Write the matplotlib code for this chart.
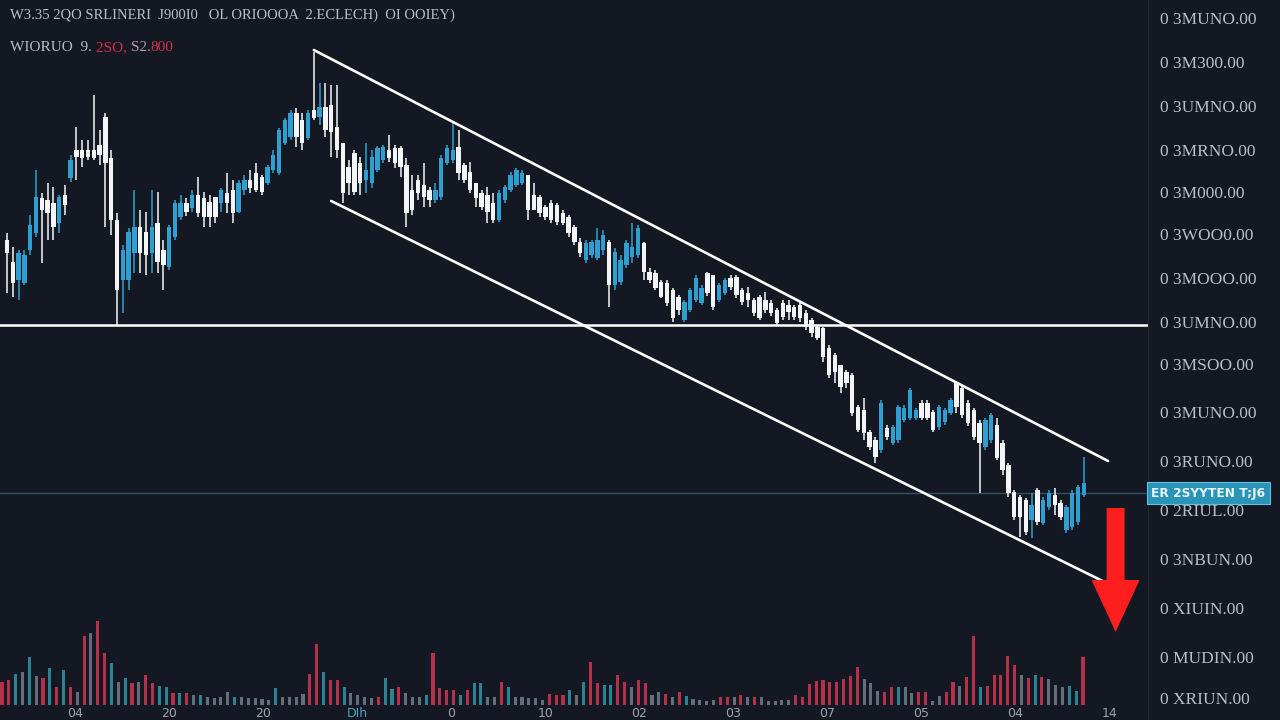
import matplotlib
matplotlib.use("Agg")
import matplotlib.pyplot as plt
import matplotlib.transforms as mtransforms
import numpy as np
from matplotlib.patches import FancyArrow

# ---- price candles (arbitrary price units) ----
opens = [480, 458, 440, 437, 470, 487, 522, 520, 517, 497, 525, 542, 570, 570, 570, 570, 575, 603, 562, 500,
         440, 440, 467, 493, 488, 467, 497, 470, 453, 483, 503, 517, 512, 525, 522, 518, 523, 517, 527, 530,
         508, 530, 540, 547, 543, 537, 550, 547, 577, 583, 607, 600, 582, 610, 603, 613, 615, 593, 577, 553,
         567, 557, 540, 537, 550, 560, 570, 572, 572, 555, 530, 540, 535, 530, 520, 523, 557, 560, 573, 555,
         548, 537, 527, 525, 517, 500, 520, 530, 535, 537, 545, 525, 523, 513, 517, 515, 507, 503, 493, 478,
         460, 465, 462, 470, 478, 435, 438, 455, 463, 465, 477, 448, 447, 438, 437, 430, 423, 400, 410, 420,
         417, 447, 445, 420, 427, 442, 443, 430, 427, 420, 423, 420, 417, 410, 417, 415, 413, 415, 407, 400,
         393, 392, 372, 365, 355, 348, 345, 313, 310, 288, 280, 270, 292, 277, 280, 300, 302, 302, 317, 317,
         308, 293, 298, 307, 337, 332, 317, 310, 297, 273, 280, 295, 277, 255, 228, 223, 220, 200, 230, 197,
         213, 225, 217, 190, 193, 198, 225]
highs = [487, 473, 470, 470, 505, 550, 527, 537, 533, 525, 535, 565, 593, 580, 580, 625, 590, 607, 570, 507,
         475, 492, 530, 510, 508, 530, 528, 480, 495, 520, 525, 522, 530, 543, 528, 525, 523, 532, 547, 540,
         540, 545, 550, 557, 545, 555, 570, 592, 602, 610, 612, 607, 610, 668, 637, 637, 635, 635, 577, 560,
         570, 563, 577, 570, 574, 575, 585, 575, 574, 562, 545, 545, 557, 533, 537, 565, 575, 597, 590, 557,
         558, 537, 530, 533, 527, 530, 535, 548, 552, 550, 545, 537, 525, 515, 520, 517, 510, 505, 495, 482,
         480, 480, 492, 490, 480, 472, 465, 480, 497, 495, 478, 452, 450, 440, 440, 432, 425, 420, 432, 445,
         435, 448, 445, 437, 442, 445, 445, 432, 433, 422, 425, 428, 420, 412, 420, 420, 415, 417, 410, 402,
         395, 393, 375, 367, 355, 350, 347, 315, 322, 290, 283, 320, 295, 295, 315, 315, 332, 312, 320, 320,
         310, 315, 312, 322, 337, 334, 320, 312, 300, 302, 307, 302, 280, 257, 230, 225, 222, 227, 232, 223,
         230, 232, 220, 215, 230, 235, 263]
lows = [427, 423, 420, 435, 465, 483, 457, 480, 480, 487, 505, 538, 540, 553, 560, 560, 555, 493, 485, 395,
        407, 430, 447, 447, 445, 447, 447, 430, 450, 480, 500, 504, 508, 503, 493, 493, 497, 508, 507, 497,
        507, 525, 527, 528, 525, 535, 547, 545, 575, 580, 573, 570, 580, 600, 595, 583, 563, 562, 517, 525,
        525, 525, 527, 532, 548, 557, 558, 552, 543, 493, 505, 520, 513, 513, 517, 520, 555, 557, 540, 537,
        527, 513, 510, 497, 497, 498, 517, 528, 533, 535, 500, 510, 503, 500, 497, 495, 495, 483, 475, 463,
        457, 462, 460, 465, 413, 430, 435, 452, 457, 462, 440, 437, 430, 422, 414, 398, 405, 398, 408, 418,
        415, 424, 410, 418, 425, 430, 422, 415, 413, 404, 400, 407, 404, 394, 400, 400, 400, 398, 390, 383,
        380, 358, 342, 337, 327, 332, 304, 288, 280, 270, 257, 267, 280, 275, 277, 298, 300, 300, 300, 300,
        288, 290, 295, 305, 307, 302, 294, 280, 227, 270, 277, 260, 245, 223, 200, 183, 185, 182, 195, 195,
        210, 205, 200, 187, 190, 195, 223]
closes = [467, 437, 467, 465, 495, 523, 510, 507, 493, 523, 515, 560, 563, 562, 563, 562, 565, 557, 500, 430,
          470, 488, 493, 467, 465, 493, 458, 455, 493, 517, 517, 508, 525, 507, 503, 503, 503, 530, 517, 507,
          537, 540, 532, 530, 528, 553, 565, 590, 600, 607, 583, 577, 607, 602, 613, 590, 588, 570, 527, 537,
          528, 537, 550, 563, 572, 573, 562, 557, 553, 507, 510, 527, 523, 520, 530, 562, 572, 570, 547, 540,
          530, 522, 513, 508, 500, 527, 533, 545, 550, 547, 510, 510, 507, 503, 500, 498, 497, 487, 478, 467,
          477, 478, 480, 485, 435, 468, 460, 477, 473, 492, 448, 440, 432, 423, 417, 402, 410, 418, 430, 442,
          432, 427, 413, 435, 440, 433, 425, 418, 420, 407, 402, 410, 407, 397, 403, 408, 403, 402, 393, 387,
          382, 363, 345, 348, 333, 337, 307, 290, 287, 273, 263, 317, 283, 293, 313, 312, 330, 310, 302, 302,
          290, 313, 310, 320, 313, 305, 297, 283, 277, 300, 305, 262, 250, 227, 203, 203, 188, 215, 198, 220,
          227, 215, 203, 213, 227, 233, 237]

# ---- volume bars (r = sell, t = buy, g = quiet) ----
volumes = [23, 25, 31, 33, 48, 29, 27, 37, 18, 35, 18, 13, 69, 72, 84, 52, 42, 23, 27, 22,
           23, 30, 22, 19, 18, 12, 12, 12, 10, 10, 8, 7, 8, 13, 8, 8, 7, 7, 6, 5,
           17, 8, 8, 8, 11, 31, 61, 33, 25, 25, 18, 12, 10, 8, 7, 8, 27, 16, 18, 12,
           8, 8, 10, 52, 17, 15, 15, 10, 15, 22, 22, 8, 8, 23, 18, 8, 8, 7, 7, 5,
           11, 10, 10, 15, 10, 23, 43, 22, 20, 20, 30,
           23, 18, 25, 22, 10, 13, 11, 8, 13, 9, 6, 5, 4, 5, 8, 8, 8, 10, 8, 8,
           8, 4, 4, 5, 5, 10, 8, 21, 24, 25, 23, 23, 26, 29, 38, 26, 22, 14, 13, 18,
           18, 18, 12, 13, 13, 4, 9, 13, 23, 19, 28, 69, 18, 19, 30, 30, 49, 40, 30, 27,
           30, 28, 26, 20, 18, 19, 14, 48]
vol_kinds = list("rrtgtgrtrt" "rgrgrrtgtr" "grrttrtrgt" "ggggtggggg"
                 "tggggrrtrr" "tggggrttrg" "ggtrrrrtrt" "tggrtggggg"
                 "rrrtgtrrtt" "r"
                 "rgrrggrgrt" "ggggrrgrgr" "ggggg" "rrrrrrrrrr" "gggrrtggrr"
                 "ggrrgrrtrr" "rrrgrtrggg" "tt")

# ---- annotations ----
support_level = 395
last_price = 227
upper_channel = ([53, 190.2], [670, 259])
lower_channel = ([56, 189.6], [519, 138])

tick_prices = [702, 658, 614, 570, 528, 486, 442, 398, 356, 308, 259, 210, 161, 112, 63, 22]
tick_labels = ["0 3MUNO.00", "0 3M300.00", "0 3UMNO.00", "0 3MRNO.00", "0 3M000.00", "0 3WOO0.00",
               "0 3MOOO.00", "0 3UMNO.00", "0 3MSOO.00", "0 3MUNO.00", "0 3RUNO.00", "0 2RIUL.00",
               "0 3NBUN.00", "0 XIUIN.00", "0 MUDIN.00", "0 XRIUN.00"]
date_labels = ["04", "20", "20", "DIh", "0", "10", "02", "03", "07", "05", "04", "14"]

title_line = "W3.35 2QO SRLINERI  J900I0   OL ORIOOOA  2.ECLECH)  OI OOIEY)"
price_tag = "ER 2SYYTEN T;J6"

BG = "#131822"
WHITE = "#f3f5f7"
BLUE = "#2f9fd2"
TEXT = "#b9bec6"
vol_colors = {"r": "#c8344f", "t": "#2f8f9f", "g": "#6d7884"}

fig = plt.figure(figsize=(12.8, 7.2), dpi=100)
fig.patch.set_facecolor(BG)

# main price panel
ax = fig.add_axes([0, 0, 1148 / 1280, 1])
ax.set_facecolor(BG)

o = np.array(opens)
h = np.array(highs)
l = np.array(lows)
c = np.array(closes)
x = np.arange(len(o))
cols = np.where(c > o, BLUE, WHITE)

ax.vlines(x, l, h, colors=cols, lw=1.1, zorder=3)
ax.bar(x, np.maximum(np.abs(c - o), 2), bottom=np.minimum(o, c), width=0.76,
       color=cols, linewidth=0, zorder=4)

ax.axhline(support_level, color="white", lw=1.8, zorder=2)
ax.axhline(last_price, color="#35505f", lw=1.0, zorder=1)
ax.plot(*upper_channel, color="white", lw=1.9, solid_capstyle="round", zorder=5)
ax.plot(*lower_channel, color="white", lw=1.9, solid_capstyle="round", zorder=5)

arrow = FancyArrow(191.5, 212, 0, -124, width=3.1, head_width=8.3, head_length=52,
                   length_includes_head=True, color="#ff1e1e", lw=0, zorder=6)
ax.add_patch(arrow)

ax.set_xlim(-1.21, 197.1)
ax.set_ylim(0, 720)
ax.set_xticks([])
ax.yaxis.tick_right()
ax.set_yticks(tick_prices)
ax.set_yticklabels(tick_labels, color=TEXT, fontsize=12.5, family="Liberation Serif")
ax.tick_params(axis="y", length=0, pad=9)
for side in ["top", "left", "bottom"]:
    ax.spines[side].set_visible(False)
ax.spines["right"].set_color("#1f2631")

# last price tag on the axis
trans = mtransforms.blended_transform_factory(ax.transAxes, ax.transData)
ax.text(1.003, last_price, price_tag, transform=trans, ha="left", va="center",
        color="#e6f7ff", fontsize=8.8, fontweight="bold", clip_on=False, zorder=10,
        bbox=dict(boxstyle="square,pad=0.35", fc="#2a93b8", ec="#63c3dd", lw=0.8))

# volume panel
vax = fig.add_axes([0, 15 / 720, 1148 / 1280, 100 / 720])
vax.patch.set_alpha(0)
vx = np.arange(len(volumes))
vax.bar(vx, volumes, width=0.45, color=[vol_colors[k] for k in vol_kinds], alpha=0.9, linewidth=0)
vax.set_xlim(-0.29, 167.5)
vax.set_ylim(0, 100)
vax.set_yticks([])
date_pos = (75 + 94 * np.arange(len(date_labels)) - 2) / 6.84
vax.set_xticks(date_pos)
vax.set_xticklabels(date_labels, color="#9ba3ad", fontsize=9)
vax.get_xticklabels()[3].set_color("#4aa6c4")
vax.tick_params(axis="x", length=0, pad=1.5)
for s in vax.spines.values():
    s.set_visible(False)

# header text
fig.text(0.008, 0.979, title_line, color=TEXT, fontsize=10.5, family="Liberation Serif", va="center")
fig.canvas.draw()
renderer = fig.canvas.get_renderer()
xpos = 0.008
for piece, col in [("WIORUO  9. ", TEXT), ("2SO, ", "#d0334a"), ("S2.", "#b89aa2"), ("800", "#d0334a")]:
    t = fig.text(xpos, 0.934, piece, color=col, fontsize=11, family="Liberation Serif", va="center")
    bb = t.get_window_extent(renderer)
    xpos = bb.x1 / fig.bbox.width

fig.savefig("out.png", dpi=100, facecolor=BG)
